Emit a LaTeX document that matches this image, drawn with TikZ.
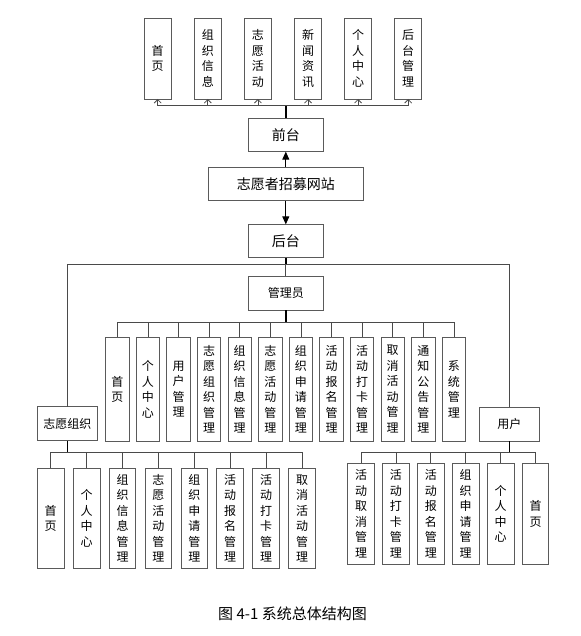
\documentclass[tikz,border=0pt]{standalone}
\usepackage{fontspec}
\newfontfamily\cjk{Noto Sans CJK SC}
\usepackage{tikz}
\usetikzlibrary{arrows.meta,positioning}
\definecolor{boxline}{HTML}{5A5A5A}
\definecolor{linegray}{HTML}{4A4A4A}
\tikzset{
  leaf/.style={rectangle, draw=boxline, fill=white, line width=0.9pt, align=center,
               inner sep=0pt, outer sep=0pt, font=\cjk\fontsize{12}{15.5}\selectfont},
  topleaf/.style={leaf, minimum width=27pt, minimum height=81pt},
  admleaf/.style={leaf, minimum width=23.5pt, minimum height=103.7pt},
  orgleaf/.style={leaf, minimum width=26.7pt, minimum height=100pt},
  usrleaf/.style={leaf, minimum width=26.7pt, minimum height=100.7pt},
  role/.style={rectangle, draw=boxline, fill=white, line width=0.9pt, align=center,
               inner sep=0pt, outer sep=0pt, font=\cjk\fontsize{12}{14}\selectfont,
               minimum width=60pt, minimum height=34pt},
  hub/.style={rectangle, draw=boxline, fill=white, line width=0.9pt, align=center,
              inner sep=0pt, outer sep=0pt, font=\cjk\fontsize{14}{16}\selectfont,
              minimum height=33.5pt},
  link/.style={draw=linegray, line width=0.8pt},
  stub/.style={draw=black, line width=1.6pt},
  upar/.style={link, -{Straight Barb[length=3.5pt,width=7pt]}},
  arr/.style={-{Triangle[length=8pt,width=7pt]}, draw=black, line width=0.8pt},
}
\begin{document}
\begin{tikzpicture}[x=1pt,y=1pt]
\useasboundingbox (0,0) rectangle (580,-636);
% --- centre column
\node[hub,minimum width=155pt] (site) at (285.8,-184) {志愿者招募网站};
\node[hub,minimum width=75pt,above=15.6pt of site] (front) {前台};
\node[hub,minimum width=75pt,below=23.6pt of site] (back) {后台};
\draw[arr] (site)--(front); \draw[arr] (site)--(back);

% --- front pages
\node[topleaf] (t1) at (157.7,-58.5) {首\\页};
\node[topleaf,right=23.1pt of t1] (t2) {组\\织\\信\\息};
\node[topleaf,right=23.1pt of t2] (t3) {志\\愿\\活\\动};
\node[topleaf,right=23.1pt of t3] (t4) {新\\闻\\资\\讯};
\node[topleaf,right=23.1pt of t4] (t5) {个\\人\\中\\心};
\node[topleaf,right=23.1pt of t5] (t6) {后\\台\\管\\理};
\coordinate (topbus) at (285.8,-105.7);
\draw[stub] (front)--(topbus);
\draw[link,draw=black] (t1 |- topbus)--(t6 |- topbus);
\draw[upar] (topbus) -| (t1); \draw[upar] (topbus) -| (t2); \draw[upar] (topbus) -| (t3);
\draw[upar] (topbus) -| (t4); \draw[upar] (topbus) -| (t5); \draw[upar] (topbus) -| (t6);

% --- back roles
\node[role,minimum width=75pt] (admin) at (285.8,-293) {管理员};
\node[role] (org) at (67.3,-423.5) {志愿组织};
\node[role] (user) at (509.3,-424.2) {用户};
\coordinate (backbus) at (285.8,-264);
\draw[stub] (back)--(backbus); \draw[link] (backbus)--(admin);
\draw[link] (backbus) -| (org); \draw[link] (backbus) -| (user);

% --- admin pages
\node[admleaf] (a1) at (117.3,-389.2) {首\\页};
\node[admleaf,right=7.1pt of a1] (a2) {个\\人\\中\\心};
\node[admleaf,right=7.1pt of a2] (a3) {用\\户\\管\\理};
\node[admleaf,right=7.1pt of a3] (a4) {志\\愿\\组\\织\\管\\理};
\node[admleaf,right=7.1pt of a4] (a5) {组\\织\\信\\息\\管\\理};
\node[admleaf,right=7.1pt of a5] (a6) {志\\愿\\活\\动\\管\\理};
\node[admleaf,right=7.1pt of a6] (a7) {组\\织\\申\\请\\管\\理};
\node[admleaf,right=7.1pt of a7] (a8) {活\\动\\报\\名\\管\\理};
\node[admleaf,right=7.1pt of a8] (a9) {活\\动\\打\\卡\\管\\理};
\node[admleaf,right=7.1pt of a9] (a10) {取\\消\\活\\动\\管\\理};
\node[admleaf,right=7.1pt of a10] (a11) {通\\知\\公\\告\\管\\理};
\node[admleaf,right=7.1pt of a11] (a12) {系\\统\\管\\理};
\coordinate (admbus) at (285.8,-322);
\draw[stub] (admin)--(admbus);
\draw[link] (admbus) -| (a1); \draw[link] (admbus) -| (a2); \draw[link] (admbus) -| (a3);
\draw[link] (admbus) -| (a4); \draw[link] (admbus) -| (a5); \draw[link] (admbus) -| (a6);
\draw[link] (admbus) -| (a7); \draw[link] (admbus) -| (a8); \draw[link] (admbus) -| (a9);
\draw[link] (admbus) -| (a10); \draw[link] (admbus) -| (a11); \draw[link] (admbus) -| (a12);

% --- organisation pages
\node[orgleaf] (o1) at (50.7,-518.3) {首\\页};
\node[orgleaf,right=9.2pt of o1] (o2) {个\\人\\中\\心};
\node[orgleaf,right=9.2pt of o2] (o3) {组\\织\\信\\息\\管\\理};
\node[orgleaf,right=9.2pt of o3] (o4) {志\\愿\\活\\动\\管\\理};
\node[orgleaf,right=9.2pt of o4] (o5) {组\\织\\申\\请\\管\\理};
\node[orgleaf,right=9.2pt of o5] (o6) {活\\动\\报\\名\\管\\理};
\node[orgleaf,right=9.2pt of o6] (o7) {活\\动\\打\\卡\\管\\理};
\node[orgleaf,right=9.2pt of o7] (o8) {取\\消\\活\\动\\管\\理};
\coordinate (orgbus) at (67.3,-452.3);
\draw[stub] (org)--(orgbus);
\draw[link] (orgbus) -| (o1); \draw[link] (orgbus) -| (o2); \draw[link] (orgbus) -| (o3);
\draw[link] (orgbus) -| (o4); \draw[link] (orgbus) -| (o5); \draw[link] (orgbus) -| (o6);
\draw[link] (orgbus) -| (o7); \draw[link] (orgbus) -| (o8);

% --- user pages
\node[usrleaf] (u1) at (361,-513.7) {活\\动\\取\\消\\管\\理};
\node[usrleaf,right=8.2pt of u1] (u2) {活\\动\\打\\卡\\管\\理};
\node[usrleaf,right=8.2pt of u2] (u3) {活\\动\\报\\名\\管\\理};
\node[usrleaf,right=8.2pt of u3] (u4) {组\\织\\申\\请\\管\\理};
\node[usrleaf,right=8.2pt of u4] (u5) {个\\人\\中\\心};
\node[usrleaf,right=8.2pt of u5] (u6) {首\\页};
\coordinate (userbus) at (509.3,-452.3);
\draw[stub] (user)--(userbus);
\draw[link] (userbus) -| (u1); \draw[link] (userbus) -| (u2); \draw[link] (userbus) -| (u3);
\draw[link] (userbus) -| (u4); \draw[link] (userbus) -| (u5); \draw[link] (userbus) -| (u6);

% --- caption
\node[font=\cjk\fontsize{15}{17}\selectfont] (cap) at (292.5,-614) {图~4-1~系统总体结构图};
\end{tikzpicture}
\end{document}
